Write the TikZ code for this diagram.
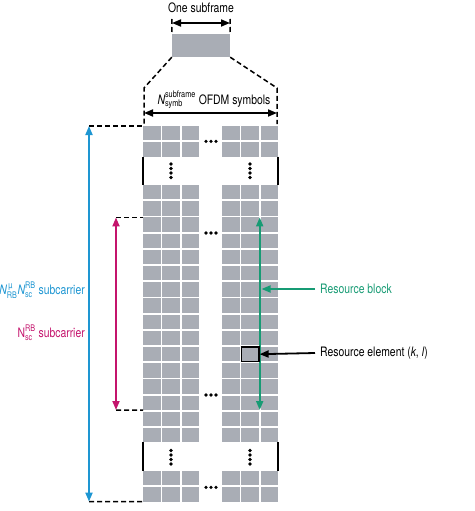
\documentclass[tikz,border=0pt]{standalone}
\usepackage{amsmath}
\usepackage{fontspec}
\setmainfont{TeX Gyre Heros}[FakeStretch=0.8]
\usepackage{xcolor}
\usetikzlibrary{positioning,calc,arrows.meta}
\definecolor{cellgray}{HTML}{A9ADB5}
\definecolor{rbcyan}{HTML}{1E96D2}
\definecolor{scmagenta}{HTML}{C4146C}
\definecolor{rbgreen}{HTML}{179B74}
\tikzset{
  cell/.style={rectangle, fill=cellgray, minimum width=17.5pt, minimum height=14.4pt, inner sep=0pt, outer sep=0pt, anchor=north west},
  dimarrow/.style={{Triangle[length=9pt,width=7pt]}-{Triangle[length=9pt,width=7pt]}, line width=1.8pt},
  ptarrow/.style={-{Triangle[length=9pt,width=7pt]}, line width=1.8pt},
  guide/.style={line width=1.5pt, dash pattern=on 5pt off 3pt},
  edge/.style={line width=1.8pt}
}

\begin{document}
\begin{tikzpicture}[x=1pt, y=-1pt, font=\fontsize{13}{15}\selectfont]
    \useasboundingbox (0,0) rectangle (474,511);
    % subframe on top
    \node (one) at (201,8) {One subframe};
    \node [rectangle, fill=cellgray, minimum width=58pt, minimum height=23pt, inner sep=0pt] (sf) at (201,45.5) {};
    \coordinate (sfl) at (172,19);
    \coordinate (sfr) at (230,19);
    \coordinate (sfla) at (172,23);
    \coordinate (sfra) at (230,23);
    \draw [guide] (sfl) -- (sf.north west);
    \draw [guide] (sfr) -- (sf.north east);
    \draw [dimarrow] (sfla) -- (sfra);
    % zoom into the grid
    \coordinate (fl) at (144,88);
    \coordinate (fr) at (277,88);
    \coordinate (flb) at (144,124);
    \coordinate (frb) at (277,124);
    \coordinate (fla) at (144,113);
    \coordinate (fra) at (277,113);
    \draw [guide] (sf.south west) -- (fl) -- (flb);
    \draw [guide] (sf.south east) -- (fr) -- (frb);
    \draw [dimarrow] (fla) -- (fra);
    \node (ofdm) at (214,100) {$\textit{N}^{\text{subframe}}_{\text{symb}}$ OFDM symbols};
    % resource grid
    \foreach \g/\gx in {0/143,1/222} {
      \foreach \c in {0,1,2} {
        \foreach \r in {0,1} {
          \node [cell] (t-\g\c-\r) at ({\gx+19.3*\c},{126+16.2*\r}) {};
          \node [cell] (b-\g\c-\r) at ({\gx+19.3*\c},{471+16.2*\r}) {};
        }
        \foreach \r in {0,...,15} {
          \node [cell] (m-\g\c-\r) at ({\gx+19.3*\c},{185+16.2*\r}) {};
        }
      }
    }
    \draw [edge] (t-00-1.south west) -- (m-00-0.north west);
    \draw [edge] (t-12-1.south east) -- (m-12-0.north east);
    \draw [edge] (m-00-15.south west) -- (b-00-0.north west);
    \draw [edge] (m-12-15.south east) -- (b-12-0.north east);
    % dots
    \foreach \yy in {141.4,233,395,487.4} {
      \foreach \d in {-5,0,5} {
        \fill ({211+\d},\yy) circle (1.8);
      }
    }
    \foreach \xx in {171,250} {
      \foreach \yy in {164,168.5,173,177.5,450.5,455,459.5,464} {
        \fill (\xx,\yy) circle (1.8);
      }
    }
    % subcarrier arrows
    \coordinate (ct) at (89,126);
    \coordinate (cb) at (89,501.6);
    \coordinate (mt) at (116,217.4);
    \coordinate (mb) at (116,410);
    \draw [guide] (ct) -- (t-00-0.north west);
    \draw [guide] (cb) -- (b-00-1.south west);
    \draw [guide] (mt) -- (m-00-2.north west);
    \draw [guide] (mb) -- (m-00-13.south west);
    \draw [dimarrow, rbcyan] (ct) -- (cb);
    \draw [dimarrow, scmagenta] (mt) -- (mb);
    \node [anchor=east, text=rbcyan, inner sep=1pt] (nrb) at (86,290) {$\textit{N}^{\,\text{µ}}_{\text{RB}}\textit{N}^{\text{RB}}_{\text{sc}}$ subcarrier};
    \node [anchor=east, text=scmagenta, inner sep=1pt] (nsc) at (86,333) {$\text{N}^{\text{RB}}_{\text{sc}}$ subcarrier};
    % resource block and element
    \coordinate (gt) at ($(m-11-2.north east)!0.5!(m-12-2.north west)$);
    \coordinate (gb) at ($(m-11-13.south east)!0.5!(m-12-13.south west)$);
    \draw [dimarrow, rbgreen] (gt) -- (gb);
    \node [rectangle, draw=black, line width=1.6pt, minimum width=17.5pt, minimum height=14.4pt, inner sep=0pt] (re) at (m-11-10.center) {};
    \node [anchor=west, text=rbgreen, inner sep=5pt] (rb) at (315,289) {Resource block};
    \node [anchor=west, inner sep=5pt] (rel) at (315,353) {Resource element (\textit{k}, \textit{l})};
    \coordinate (gm) at (261.5,289);
    \draw [ptarrow, rbgreen] (rb.west) -- (gm);
    \draw [ptarrow] (rel.west) -- (re.east);
\end{tikzpicture}
\end{document}
